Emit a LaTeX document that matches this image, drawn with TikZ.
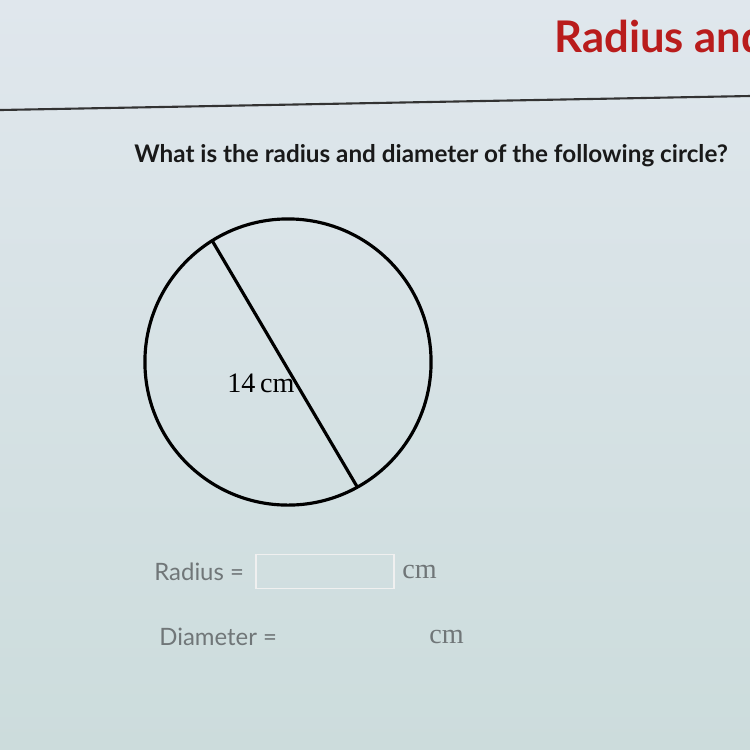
\documentclass[tikz,border=0pt]{standalone}
\usepackage{fontspec}
\setmainfont{Lato}
\newfontfamily\unitfont{Liberation Serif}
\usetikzlibrary{positioning}
\definecolor{screentop}{RGB}{224,231,237}
\definecolor{screenbot}{RGB}{204,220,220}
\definecolor{titlered}{RGB}{185,28,28}
\definecolor{formgray}{RGB}{112,118,120}

\begin{document}
\begin{tikzpicture}[x=0.01cm, y=-0.01cm, thick]
    % Styles
    \tikzstyle{title} = [font=\bfseries\fontsize{12.4}{15}\selectfont, text=titlered, anchor=base west, inner sep=0pt]
    \tikzstyle{question} = [font=\bfseries\fontsize{6.9}{9}\selectfont, text=black!90, anchor=base west, inner sep=0pt]
    \tikzstyle{ring} = [draw, circle, line width=0.9pt, minimum size=2.86cm, inner sep=0pt, outer sep=0pt]
    \tikzstyle{measure} = [font=\unitfont\fontsize{8}{10}\selectfont, inner sep=0pt]
    \tikzstyle{field} = [font=\fontsize{6.8}{8}\selectfont, text=formgray, anchor=base west, inner sep=0pt]
    \tikzstyle{answer} = [draw=white!88!gray, line width=0.4pt, minimum width=1.38cm, minimum height=0.34cm, inner sep=0pt]
    \tikzstyle{unit} = [font=\unitfont\fontsize{8}{10}\selectfont, text=formgray, anchor=base west, inner sep=0pt]

    % Screen
    \useasboundingbox (0,0) rectangle (750,750);
    \clip (0,0) rectangle (750,750);
    \shade [top color=screentop, bottom color=screenbot] (0,0) rectangle (750,750);
    \draw [line width=0.6pt, black!80] (0,110) -- (750,96);

    % Nodes
    \node [title] (Title) at (553,52) {Radius and};
    \node [question] (Question) at (133,162) {What is the radius and diameter of the following circle?};
    \node [ring] (Circ) at (288,362) {};
    \node [measure] (Len) at (261,383) {14\,cm};

    % Answer fields
    \node [field] (Rad) at (153,580) {Radius =};
    \node [answer, right=0.1cm of Rad] (RadBox) {};
    \node [unit] (RadUnit) at (401,578) {cm};
    \node [field] (Dia) at (158,645) {Diameter =};
    \node [unit] (DiaUnit) at (428,643) {cm};

    % Connections
    \draw [line width=0.9pt] (Circ.122.5) -- (Circ.-61);
\end{tikzpicture}
\end{document}
